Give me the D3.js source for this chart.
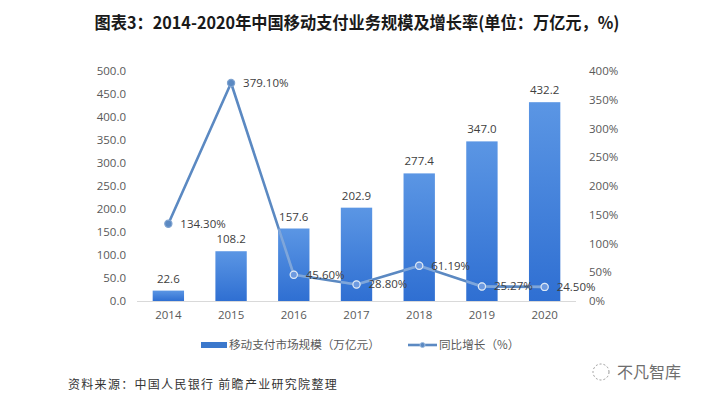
<!DOCTYPE html>
<html>
<head>
<meta charset="utf-8">
<script src="https://cdn.jsdelivr.net/npm/d3@7"></script>
<style>
  body { margin: 0; background: #fff; }
  svg { display: block; font-family: "Noto Sans CJK SC", "Open Sans", sans-serif; }
</style>
</head>
<body>
<div id="chart"></div>
<script>
const years = ["2014", "2015", "2016", "2017", "2018", "2019", "2020"];
const scale = [22.6, 108.2, 157.6, 202.9, 277.4, 347.0, 432.2];
const growth = [134.30, 379.10, 45.60, 28.80, 61.19, 25.27, 24.50];
const leftTicks = [0, 50, 100, 150, 200, 250, 300, 350, 400, 450, 500];
const rightTicks = [0, 50, 100, 150, 200, 250, 300, 350, 400];

const width = 706, height = 402;
const margin = { top: 71, bottom: 100, left: 137, right: 130 };

const svg = d3.select("#chart").append("svg")
  .attr("width", width)
  .attr("height", height);

const x = d3.scaleBand()
  .domain(years)
  .range([margin.left, width - margin.right])
  .paddingInner(0.5)
  .paddingOuter(0.25);

const y = d3.scaleLinear().domain([0, 500]).range([height - margin.bottom - 1, margin.top]);
const y2 = d3.scaleLinear().domain([0, 400]).range([height - margin.bottom - 1, margin.top]);

const rows = years.map((yr, i) => ({ year: yr, value: scale[i], rate: growth[i] }));

// gradient for bars
const defs = svg.append("defs");
const grad = defs.append("linearGradient")
  .attr("id", "barGrad")
  .attr("x1", 0).attr("y1", 0).attr("x2", 0).attr("y2", 1);
grad.append("stop").attr("offset", "0%").attr("stop-color", "#5b96e4");
grad.append("stop").attr("offset", "100%").attr("stop-color", "#2f6fd2");

// title
svg.append("text")
  .attr("x", 357).attr("y", 29)
  .attr("text-anchor", "middle")
  .attr("font-size", 17)
  .attr("font-weight", "bold")
  .attr("fill", "#1a1a1a")
  .attr("textLength", 525)
  .attr("lengthAdjust", "spacingAndGlyphs")
  .text("图表3：2014-2020年中国移动支付业务规模及增长率(单位：万亿元，%)");

// left axis
svg.append("g")
  .attr("transform", `translate(${margin.left - 3},0)`)
  .call(d3.axisLeft(y).tickValues(leftTicks).tickSize(0).tickPadding(8).tickFormat(d3.format(".1f")))
  .call(g => g.select(".domain").remove())
  .call(g => g.selectAll("text").attr("fill", "#595959").attr("font-size", 11.5)
    .attr("font-family", "'Open Sans', sans-serif"));

// right axis
svg.append("g")
  .attr("transform", `translate(${width - margin.right + 10},0)`)
  .call(d3.axisRight(y2).tickValues(rightTicks).tickSize(0).tickPadding(3).tickFormat(d => d + "%"))
  .call(g => g.select(".domain").remove())
  .call(g => g.selectAll("text").attr("fill", "#595959").attr("font-size", 11.5)
    .attr("font-family", "'Open Sans', sans-serif"));

// baseline
svg.append("line")
  .attr("x1", margin.left).attr("x2", width - margin.right)
  .attr("y1", y(0) + 0.5).attr("y2", y(0) + 0.5)
  .attr("stroke", "#d9d9d9");

// x axis labels
svg.append("g")
  .attr("transform", `translate(0,${y(0)})`)
  .call(d3.axisBottom(x).tickSize(0).tickPadding(10))
  .call(g => g.select(".domain").remove())
  .call(g => g.selectAll("text").attr("fill", "#595959").attr("font-size", 11.5)
    .attr("font-family", "'Open Sans', sans-serif"));

// bars
svg.append("g")
  .selectAll("rect")
  .data(rows)
  .join("rect")
    .attr("x", d => x(d.year))
    .attr("y", d => y(d.value))
    .attr("width", x.bandwidth())
    .attr("height", d => y(0) - y(d.value))
    .attr("fill", "url(#barGrad)");

svg.append("g")
  .attr("text-anchor", "middle")
  .attr("fill", "#404040")
  .attr("font-size", 11.5)
  .attr("font-family", "'Open Sans', sans-serif")
  .selectAll("text")
  .data(rows)
  .join("text")
    .attr("x", d => x(d.year) + x.bandwidth() / 2)
    .attr("y", d => y(d.value) - 8)
    .text(d => d.value.toFixed(1));

// clip to bars (line looks lighter over bars)
defs.append("clipPath").attr("id", "barClip")
  .selectAll("rect")
  .data(rows)
  .join("rect")
    .attr("x", d => x(d.year))
    .attr("y", d => y(d.value))
    .attr("width", x.bandwidth())
    .attr("height", d => y(0) - y(d.value));

const cx = d => x(d.year) + x.bandwidth() / 2;
const line = d3.line().x(cx).y(d => y2(d.rate));

function drawLine(g, lineColor, dotFill, dotStroke) {
  g.append("path")
    .datum(rows)
    .attr("d", line)
    .attr("fill", "none")
    .attr("stroke", lineColor)
    .attr("stroke-width", 2.6)
    .attr("stroke-linejoin", "round");
  g.selectAll("circle")
    .data(rows)
    .join("circle")
      .attr("cx", cx)
      .attr("cy", d => y2(d.rate))
      .attr("r", 3.6)
      .attr("fill", dotFill)
      .attr("stroke", dotStroke)
      .attr("stroke-width", 1.2);
}

drawLine(svg.append("g"), "#5b89c2", "#5b89c2", "#7fa3d0");
drawLine(svg.append("g").attr("clip-path", "url(#barClip)"), "#7ea6dc", "#6d9ae0", "#dce8f7");

svg.append("g")
  .attr("fill", "#404040")
  .attr("font-size", 11.5)
  .attr("font-family", "'Open Sans', sans-serif")
  .selectAll("text")
  .data(rows)
  .join("text")
    .attr("x", d => cx(d) + 12)
    .attr("y", d => y2(d.rate))
    .attr("dy", "0.35em")
    .text(d => d.rate.toFixed(2) + "%");

// legend
const lg = svg.append("g").attr("font-size", 11.6).attr("fill", "#595959");
lg.append("rect").attr("x", 201).attr("y", 342).attr("width", 26).attr("height", 6).attr("fill", "#3b78cc");
lg.append("text").attr("x", 229).attr("y", 345).attr("dy", "0.35em").text("移动支付市场规模（万亿元）");
lg.append("line").attr("x1", 408).attr("x2", 437).attr("y1", 345).attr("y2", 345)
  .attr("stroke", "#5b89c2").attr("stroke-width", 2.6);
lg.append("circle").attr("cx", 422.5).attr("cy", 345).attr("r", 2.5).attr("fill", "#5b89c2").attr("stroke", "#9fbde0");
lg.append("text").attr("x", 439).attr("y", 345).attr("dy", "0.35em").text("同比增长（%）");

// source
svg.append("text")
  .attr("x", 68).attr("y", 385).attr("dy", "0.35em")
  .attr("font-size", 12).attr("fill", "#333")
  .attr("letter-spacing", 1.3)
  .text("资料来源：中国人民银行 前瞻产业研究院整理");

// corner mark
svg.append("text")
  .attr("x", 617).attr("y", 372).attr("dy", "0.35em")
  .attr("font-size", 16).attr("fill", "#6e6e6e")
  .text("不凡智库");
svg.append("circle").attr("cx", 601).attr("cy", 372).attr("r", 8)
  .attr("fill", "none").attr("stroke", "#9a9a9a").attr("stroke-dasharray", "2,2");
</script>
</body>
</html>
